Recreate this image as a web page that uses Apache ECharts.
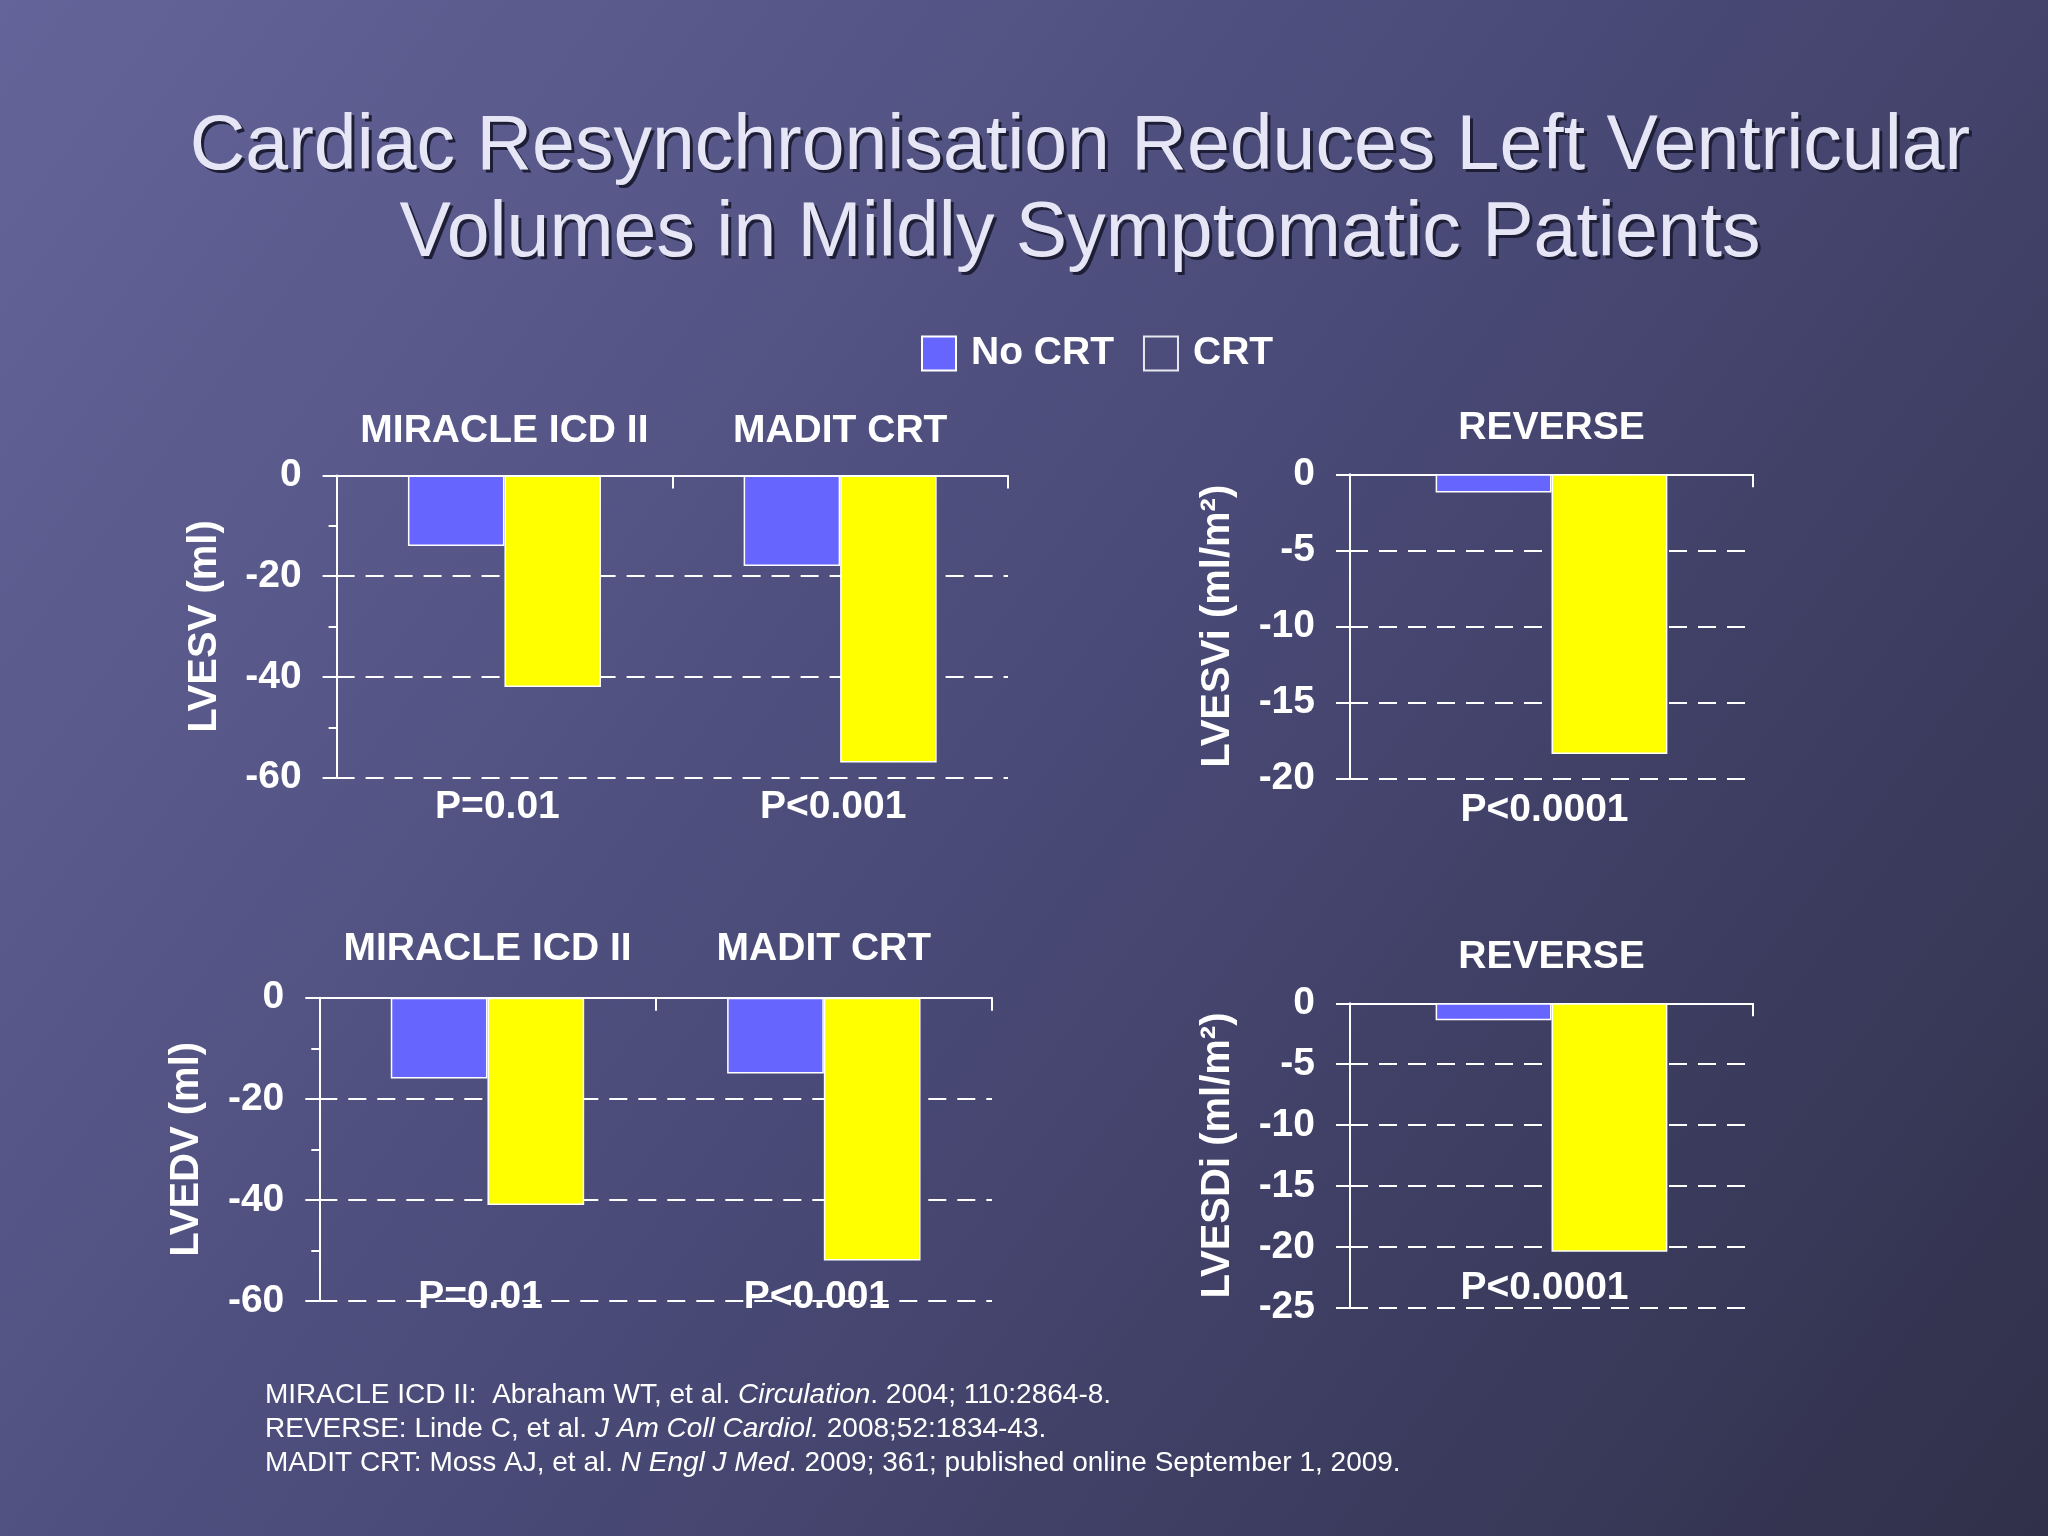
<!DOCTYPE html>
<html><head><meta charset="utf-8">
<script src="https://cdn.jsdelivr.net/npm/echarts@6/dist/echarts.min.js"></script>
<style>html,body{margin:0;padding:0;background:#4a4a76;} #c{width:2048px;height:1536px;}</style>
</head><body><div id="c"></div>
<script>
// ---- data ----
const trials = ['MIRACLE ICD II', 'MADIT CRT'];
const trialPvalsESV = ['P=0.01', 'P<0.001'];
const trialPvalsEDV = ['P=0.01', 'P<0.001'];
const reverseCat = ['REVERSE'];
const reversePvalESVi = ['P<0.0001'];
const reversePvalESDi = ['P<0.0001'];
const seriesNames = ['No CRT', 'CRT'];
const lvesvNoCrt = [-14, -18];
const lvesvCrt = [-42, -57];
const lvedvNoCrt = [-16, -15];
const lvedvCrt = [-41, -52];
const lvesviNoCrt = [-1.2];
const lvesviCrt = [-18.4];
const lvesdiNoCrt = [-1.4];
const lvesdiCrt = [-20.4];
const ticksMl = [0, -20, -40, -60];
const ticksLvesvi = [0, -5, -10, -15, -20];
const ticksLvesdi = [0, -5, -10, -15, -20, -25];
const yNames = ['LVESV (ml)', 'LVESVi (ml/m²)', 'LVEDV (ml)', 'LVESDi (ml/m²)'];
const titleLines = ['Cardiac Resynchronisation Reduces Left Ventricular', 'Volumes in Mildly Symptomatic Patients'];

// ---- layout / style ----
const FONT = '"Liberation Sans", Arial, sans-serif';
const WHITE = '#ffffff';
const panels = [
  {grid: {left: 336.6, top: 475.4, width: 671.4, height: 302.3}, cats: trials, pvals: trialPvalsESV, noCrt: lvesvNoCrt, crt: lvesvCrt, ticks: ticksMl, name: yNames[0], minor: true, catMargin: 44, pMargin: 30},
  {grid: {left: 1350, top: 474.3, width: 403, height: 304}, cats: reverseCat, pvals: reversePvalESVi, noCrt: lvesviNoCrt, crt: lvesviCrt, ticks: ticksLvesvi, name: yNames[1], minor: false, catMargin: 46, pMargin: 32},
  {grid: {left: 319.3, top: 997.7, width: 672.7, height: 303.3}, cats: trials, pvals: trialPvalsEDV, noCrt: lvedvNoCrt, crt: lvedvCrt, ticks: ticksMl, name: yNames[2], minor: true, catMargin: 48, pMargin: -4},
  {grid: {left: 1350, top: 1003.3, width: 403, height: 304.4}, cats: reverseCat, pvals: reversePvalESDi, noCrt: lvesdiNoCrt, crt: lvesdiCrt, ticks: ticksLvesdi, name: yNames[3], minor: false, catMargin: 46.5, pMargin: -19}
];

const labelText = {color: WHITE, fontSize: 39, fontWeight: 'bold', fontFamily: FONT};
const grids = [], xAxes = [], yAxes = [], series = [];
panels.forEach((p, i) => {
  grids.push(Object.assign({containLabel: false}, p.grid));
  xAxes.push({
    gridIndex: i, type: 'category', position: 'top', data: p.cats,
    axisLine: {show: true, onZero: false, lineStyle: {color: WHITE, width: 2}},
    axisTick: {show: true, inside: true, length: 13, lineStyle: {color: WHITE, width: 2}},
    axisLabel: Object.assign({interval: 0, margin: p.catMargin, verticalAlign: 'middle'}, labelText),
    splitLine: {show: false}
  });
  xAxes.push({
    gridIndex: i, type: 'category', position: 'bottom', data: p.pvals,
    axisLine: {show: false, onZero: false}, axisTick: {show: false},
    axisLabel: Object.assign({interval: 0, margin: p.pMargin, verticalAlign: 'middle', padding: [0, 14, 0, 0]}, labelText),
    splitLine: {show: false}
  });
  const mn = Math.min(...p.ticks), mx = Math.max(...p.ticks);
  yAxes.push({
    gridIndex: i, type: 'value', min: mn, max: mx, interval: p.ticks[0] - p.ticks[1],
    axisLine: {show: true, lineStyle: {color: WHITE, width: 2}},
    axisTick: {show: true, length: 14, lineStyle: {color: WHITE, width: 2}},
    minorTick: {show: p.minor, splitNumber: 2, length: 8, lineStyle: {color: WHITE, width: 2}},
    splitLine: {show: true, lineStyle: {color: WHITE, width: 2, type: [18, 11]}},
    axisLabel: Object.assign({margin: 35}, labelText),
    name: p.name, nameLocation: 'middle', nameGap: 112, nameRotate: 90,
    nameTextStyle: {color: WHITE, fontSize: 40, fontWeight: 'bold', fontFamily: FONT}
  });
  series.push({
    type: 'bar', name: seriesNames[0], xAxisIndex: 2 * i, yAxisIndex: i, data: p.noCrt,
    barGap: '0%', barCategoryGap: '42.5%',
    itemStyle: {color: '#6666FF', borderColor: WHITE, borderWidth: 1.5},
    emphasis: {disabled: true}
  });
  series.push({
    type: 'bar', name: seriesNames[1], xAxisIndex: 2 * i, yAxisIndex: i, data: p.crt,
    barGap: '0%', barCategoryGap: '42.5%',
    itemStyle: {color: '#FFFF00', borderColor: WHITE, borderWidth: 1.5},
    emphasis: {disabled: true}
  });
});

// title: dark shadow copy underneath, light text on top
const titleGraphics = [];
titleLines.forEach((t, k) => {
  titleGraphics.push({
    type: 'text', x: 1083, y: 151 + 87 * k, silent: true, z: 1,
    style: {text: t, fill: '#1e1e36', font: '77px ' + FONT, textAlign: 'center', verticalAlign: 'middle', textVerticalAlign: 'middle'}
  });
  titleGraphics.push({
    type: 'text', x: 1080, y: 148 + 87 * k, silent: true, z: 2,
    style: {text: t, fill: '#E6E6F6', font: '77px ' + FONT, textAlign: 'center', verticalAlign: 'middle', textVerticalAlign: 'middle'}
  });
});

const chart = echarts.init(document.getElementById('c'), null, {renderer: 'canvas', width: 2048, height: 1536});
chart.setOption({
  animation: false,
  backgroundColor: {type: 'linear', x: 0, y: 0, x2: 1, y2: 1, colorStops: [
    {offset: 0, color: '#64649a'}, {offset: 0.5, color: '#4a4a78'}, {offset: 1, color: '#30304a'}]},
  textStyle: {fontFamily: FONT},
  title: [{
    text: '{n|MIRACLE ICD II:  Abraham WT, et al. }{i|Circulation}{n|. 2004; 110:2864-8.}\n' +
          '{n|REVERSE: Linde C, et al. }{i|J Am Coll Cardiol.}{n| 2008;52:1834-43.}\n' +
          '{n|MADIT CRT: Moss AJ, et al. }{i|N Engl J Med}{n|. 2009; 361; published online September 1, 2009.}',
    left: 260, top: 1373,
    textStyle: {fontWeight: 'normal', rich: {
      n: {color: WHITE, fontSize: 28, fontFamily: FONT, fontWeight: 'normal', lineHeight: 34},
      i: {color: WHITE, fontSize: 28, fontFamily: FONT, fontWeight: 'normal', fontStyle: 'italic', lineHeight: 34}
    }}
  }],
  legend: {
    data: [{name: seriesNames[0]}, {name: seriesNames[1], itemStyle: {color: 'rgba(0,0,0,0)', borderColor: '#e8e8f0', borderWidth: 2}}],
    left: 921, top: 334, padding: 0, itemWidth: 34, itemHeight: 34, itemGap: 29, icon: 'rect',
    itemStyle: {borderColor: WHITE, borderWidth: 2},
    textStyle: {color: WHITE, fontSize: 39, fontWeight: 'bold', fontFamily: FONT, padding: [0, 0, 0, 10]},
    selectedMode: false
  },
  graphic: titleGraphics,
  grid: grids, xAxis: xAxes, yAxis: yAxes, series: series
});
</script></body></html>
